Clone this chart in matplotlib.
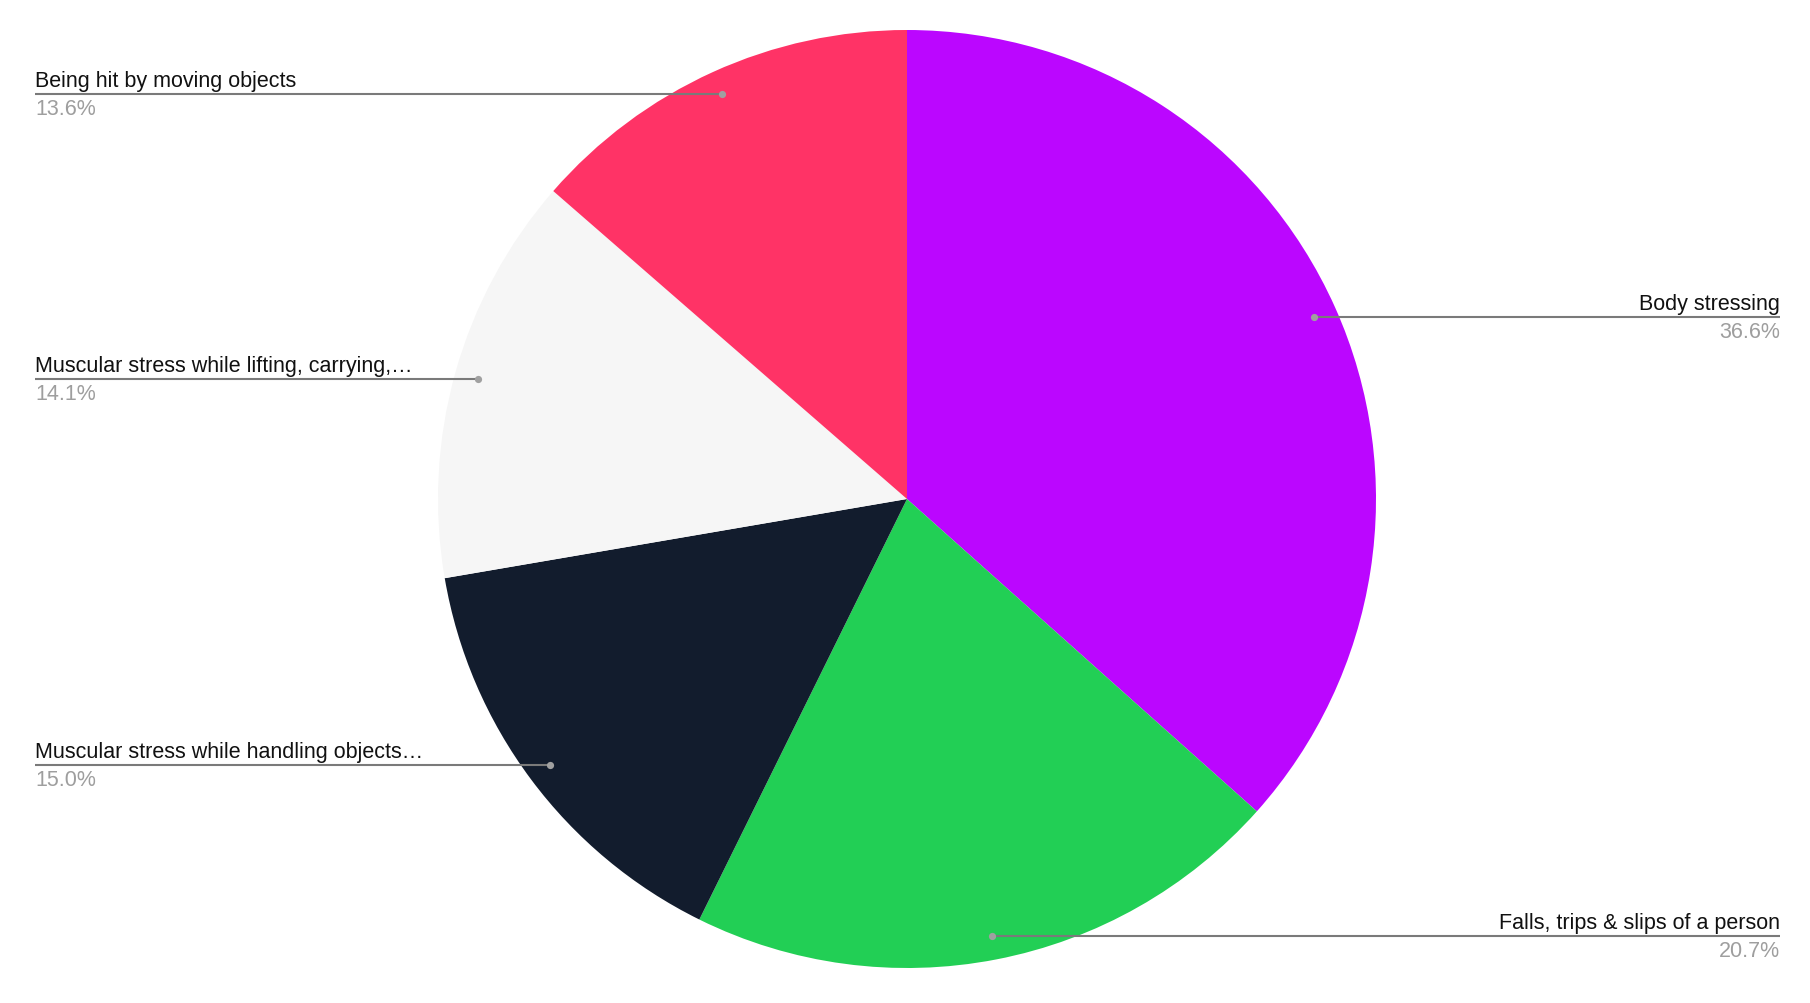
import matplotlib
matplotlib.use("Agg")
import matplotlib.pyplot as plt
import numpy as np

labels = ["Body stressing", "Falls, trips & slips of a person",
          "Muscular stress while handling objects…",
          "Muscular stress while lifting, carrying,…",
          "Being hit by moving objects"]
values = [36.6, 20.7, 15.0, 14.1, 13.6]
colors = ["#BB06FF", "#22CF55", "#121C2D", "#F6F6F6", "#FF3366"]
sides = ["right", "right", "left", "left", "left"]

plt.rcParams['font.family'] = ['Liberation Sans', 'DejaVu Sans']

W, H = 1810, 1004
fig = plt.figure(figsize=(W / 100, H / 100), dpi=100)
ax = fig.add_axes([0, 0, 1, 1])
cx, cy, R = 907.0, 504.0, 469.0  # pixel center (y up) and radius
ax.pie(values, colors=colors, startangle=90, counterclock=False,
       radius=1.0, center=(0, 0), wedgeprops=dict(linewidth=0))
ax.set_aspect('auto')
ax.set_xlim(-cx / R, (W - cx) / R)
ax.set_ylim(-cy / R, (H - cy) / R)
ax.axis('off')

px = 1.0 / R
left_x = (35 - cx) / R
right_x = (1780 - cx) / R
total = sum(values)
start = 90.0
for lab, v, side in zip(labels, values, sides):
    sweep = v / total * 360.0
    mid = np.deg2rad(start - sweep / 2)
    start -= sweep
    dx, dy = 0.95 * np.cos(mid), 0.95 * np.sin(mid)
    tx = left_x if side == "left" else right_x
    ha = "left" if side == "left" else "right"
    ax.plot([dx, tx], [dy, dy], color="#7a7a7a", lw=1.5, solid_capstyle="butt", zorder=3)
    ax.plot([dx], [dy], marker="o", ms=5.2, color="#a0a0a0", mec="none", zorder=4)
    ax.text(tx, dy + 8 * px, lab, ha=ha, va="baseline", fontsize=15.5, color="#111111")
    ax.text(tx, dy - 20 * px, f"{v:.1f}%", ha=ha, va="baseline", fontsize=15.5, color="#9e9e9e")

fig.savefig("out.png", dpi=100, facecolor="white")
